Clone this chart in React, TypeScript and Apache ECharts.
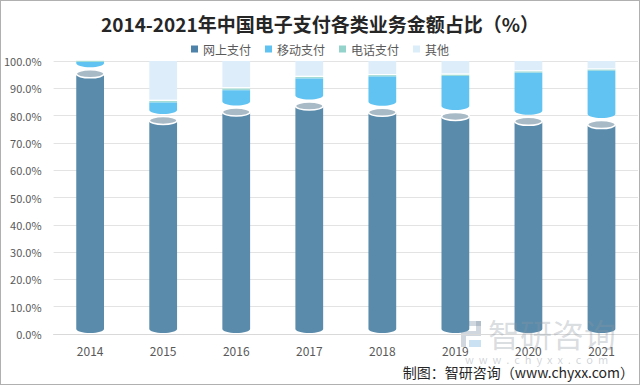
import React, { useEffect, useRef } from "react";
import * as echarts from "echarts";

const years = ["2014", "2015", "2016", "2017", "2018", "2019", "2020", "2021"];
const online = [95.3, 78.2, 81.3, 83.5, 81.2, 79.7, 77.9, 76.7];
const mobile = [4.3, 6.6, 8.0, 10.1, 13.1, 14.8, 17.8, 19.7];
const phone = [0.2, 0.6, 0.7, 0.6, 0.5, 0.5, 0.3, 0.2];
const other = [0.2, 14.6, 10.0, 5.8, 5.2, 5.0, 4.0, 3.4];
const seriesNames = ["网上支付", "移动支付", "电话支付", "其他"];
const seriesColors = ["#5a8bab", "#60c3f2", "#a3dcd6", "#ddeefa"];
const legendColors = ["#4f82a8", "#5fc2f0", "#93d3cc", "#dbedf9"];
const titleText = "2014-2021年中国电子支付各类业务金额占比（%）";
const footerText = "制图：智研咨询（www.chyxx.com）";

const FONT = "'Noto Sans CJK SC', 'Noto Sans', sans-serif";
const K = 0.5523;

function ellipsePath(cx: number, cy: number, rx: number, ry: number) {
  return `M ${cx - rx} ${cy} C ${cx - rx} ${cy - K * ry} ${cx - K * rx} ${cy - ry} ${cx} ${cy - ry} C ${cx + K * rx} ${cy - ry} ${cx + rx} ${cy - K * ry} ${cx + rx} ${cy} C ${cx + rx} ${cy + K * ry} ${cx + K * rx} ${cy + ry} ${cx} ${cy + ry} C ${cx - K * rx} ${cy + ry} ${cx - rx} ${cy + K * ry} ${cx - rx} ${cy} Z`;
}

function bodyPath(cx: number, rx: number, ry: number, yTop: number, yB: number) {
  const x0 = cx - rx;
  const x1 = cx + rx;
  return `M ${x0} ${yTop} L ${x0} ${yB} C ${x0} ${yB + K * ry} ${cx - K * rx} ${yB + ry} ${cx} ${yB + ry} C ${cx + K * rx} ${yB + ry} ${x1} ${yB + K * ry} ${x1} ${yB} L ${x1} ${yTop} Z`;
}

function makeRender(kind: number, color: string) {
  return (params: any, api: any) => {
    const ci = api.value(0);
    const lo = api.value(1);
    const hi = api.value(2);
    const p0 = api.coord([ci, lo]);
    const p1 = api.coord([ci, hi]);
    const band = api.size([1, 0])[0];
    const rx = band * 0.19;
    const ry = 4;
    const cx = p0[0];
    const yLo = p0[1];
    const yHi = p1[1];
    const children: any[] = [];
    if (kind === 0) {
      children.push({
        type: "path",
        shape: { pathData: bodyPath(cx, rx, ry, yHi, yLo - ry - 1) },
        style: { fill: color },
      });
      children.push({
        type: "path",
        shape: { pathData: ellipsePath(cx, yHi, rx, ry) },
        style: { fill: "#a8bac6", stroke: "#ffffff", lineWidth: 1.5 },
      });
    } else if (kind === 1) {
      const lowest = yLo - ry - 2.5;
      let yB = lowest - ry;
      if (yB < yHi + 1) yB = yHi + 1;
      children.push({
        type: "path",
        shape: { pathData: bodyPath(cx, rx, ry, yHi, yB) },
        style: { fill: color },
      });
    } else if (kind === 2) {
      const h = Math.max(yLo - yHi, 1.5);
      children.push({
        type: "rect",
        shape: { x: cx - rx, y: yLo - h, width: rx * 2, height: h },
        style: { fill: color },
      });
      children.push({
        type: "rect",
        shape: { x: cx - rx, y: yLo - h - 1, width: rx * 2, height: 1 },
        style: { fill: "#ffffff" },
      });
    } else {
      const h = Math.max(yLo - 1 - yHi, 0);
      children.push({
        type: "rect",
        shape: { x: cx - rx, y: yHi, width: rx * 2, height: h },
        style: { fill: color },
      });
    }
    return { type: "group", children };
  };
}

export default function App() {
  const ref = useRef<HTMLDivElement>(null);
  useEffect(() => {
    if (!ref.current) return;
    const chart = echarts.init(ref.current, undefined, { renderer: "svg" });
    const groups = [online, mobile, phone, other];
    const cum = years.map(() => 0);
    const series = groups.map((vals, si) => {
      const data = vals.map((v, i) => {
        const lo = cum[i];
        const hi = cum[i] + v;
        cum[i] = hi;
        return [i, lo, hi];
      });
      return {
        type: "custom",
        name: seriesNames[si],
        renderItem: makeRender(si, seriesColors[si]),
        itemStyle: { color: legendColors[si] },
        encode: { x: 0, y: [1, 2] },
        data,
        z: 10 - si,
      };
    });
    chart.setOption({
      animation: false,
      backgroundColor: "#ffffff",
      textStyle: { fontFamily: FONT },
      title: {
        text: titleText,
        left: "center",
        top: 8,
        textStyle: { fontSize: 19, fontWeight: "bold", color: "#262626", fontFamily: FONT },
      },
      legend: {
        top: 37,
        left: "center",
        icon: "rect",
        itemWidth: 7,
        itemHeight: 7,
        itemGap: 14,
        textStyle: { fontSize: 12, color: "#595959", fontFamily: FONT },
        data: seriesNames,
      },
      grid: { left: 52, right: 1, top: 60, bottom: 50, containLabel: false },
      xAxis: {
        type: "category",
        data: years,
        axisLine: { show: true, lineStyle: { color: "#d9d9d9" } },
        axisTick: { show: false },
        axisLabel: { color: "#595959", fontSize: 12, margin: 10, fontFamily: FONT },
      },
      yAxis: {
        type: "value",
        min: 0,
        max: 100,
        interval: 10,
        axisLine: { show: false },
        axisTick: { show: false },
        splitLine: { lineStyle: { color: "#e3e3e3" } },
        axisLabel: {
          color: "#595959",
          fontSize: 11,
          margin: 12,
          fontFamily: FONT,
          formatter: (v: number) => v.toFixed(1) + "%",
        },
      },
      graphic: [
        {
          type: "group",
          left: 460,
          top: 320,
          silent: true,
          z: 100,
          children: [
            { type: "rect", shape: { x: 0, y: 0, width: 20, height: 5 }, style: { fill: "rgba(120,140,160,0.35)" } },
            { type: "rect", shape: { x: 0, y: 0, width: 5, height: 26 }, style: { fill: "rgba(120,140,160,0.35)" } },
            { type: "rect", shape: { x: 15, y: 0, width: 5, height: 15 }, style: { fill: "rgba(120,140,160,0.35)" } },
            { type: "rect", shape: { x: 5, y: 10, width: 10, height: 5 }, style: { fill: "rgba(120,140,160,0.35)" } },
            { type: "rect", shape: { x: 8, y: 19, width: 12, height: 7 }, style: { fill: "rgba(100,170,220,0.35)" } },
          ],
        },
        {
          type: "text",
          left: 487,
          top: 316,
          silent: true,
          z: 100,
          style: {
            text: "智研咨询",
            fontSize: 32,
            fontFamily: FONT,
            fill: "rgba(140,150,160,0.32)",
          },
        },
        {
          type: "text",
          left: 464,
          top: 352,
          silent: true,
          z: 100,
          style: {
            text: "w  w  w  .  c  h  y  x  x  .  c  o  m",
            fontSize: 11,
            fontFamily: FONT,
            fill: "rgba(140,150,160,0.4)",
          },
        },
        {
          type: "text",
          right: 5,
          top: 364,
          z: 100,
          style: {
            text: footerText,
            fontSize: 14,
            fontFamily: FONT,
            fill: "#262626",
          },
        },
      ],
      series,
    });
    return () => chart.dispose();
  }, []);
  return (
    <div
      ref={ref}
      style={{
        position: "fixed",
        left: 0,
        top: 0,
        width: 640,
        height: 385,
        boxSizing: "border-box",
        border: "1px solid #b0b0b0",
        background: "#ffffff",
      }}
    />
  );
}
